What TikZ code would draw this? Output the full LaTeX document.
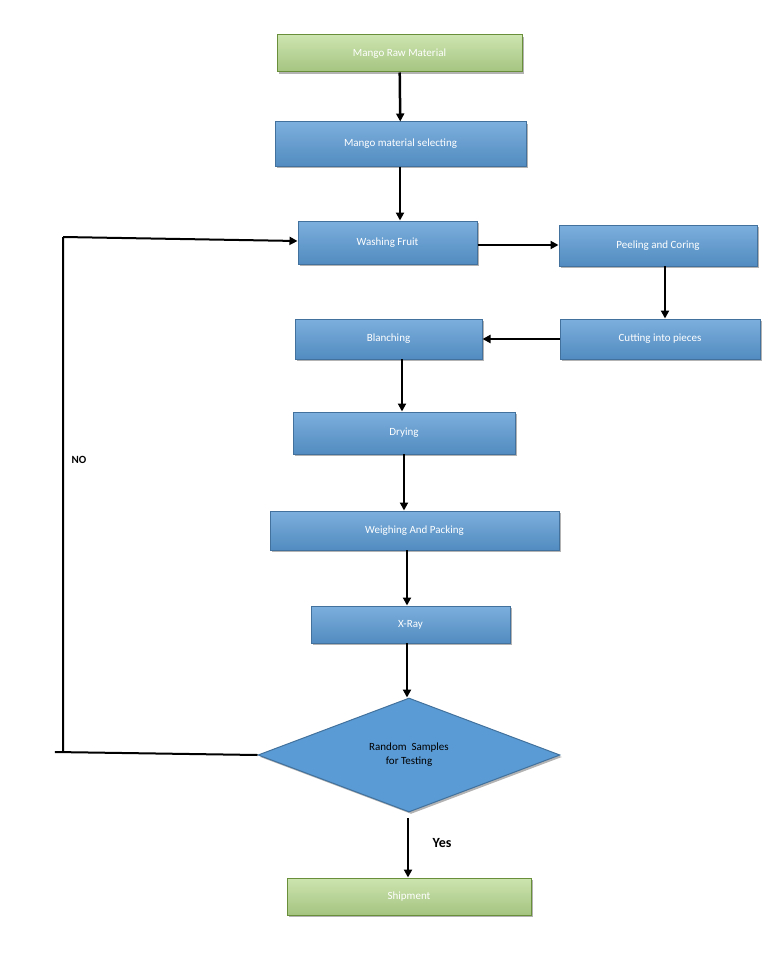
\documentclass[tikz,border=0pt]{standalone}
\usepackage{fontspec}
\setmainfont{Carlito}
\usetikzlibrary{shapes.geometric,arrows.meta,shadows}
\definecolor{bfill}{HTML}{5B9BD5}
\definecolor{bedge}{HTML}{41719C}
\definecolor{gfill}{HTML}{B7D98E}
\definecolor{gedge}{HTML}{6A8F3A}
\begin{document}
\begin{tikzpicture}[x=1pt,y=-1pt,
 box/.style={draw=bedge,line width=1pt,top color=bfill!80!white,bottom color=bfill!90!black,text=white,font=\fontsize{11}{13}\selectfont,drop shadow={shadow xshift=2pt,shadow yshift=-2pt,opacity=0.6},inner sep=0pt},
 gbox/.style={box,draw=gedge,top color=gfill!70!white,bottom color=gfill!90!black},
 arr/.style={-{Triangle[length=8pt,width=8pt]},line width=2.5pt},
 lin/.style={line width=2pt}]
\useasboundingbox (0,0) rectangle (779,963);
\node[gbox,minimum width=245pt,minimum height=37pt] (raw) at (399.5,53.5) {Mango Raw Material};
\node[box,minimum width=251pt,minimum height=44pt] (sel) at (400.5,144) {Mango material selecting};
\node[box,minimum width=179pt,minimum height=43pt] (wash) at (387.5,242.5) {Washing Fruit};
\node[box,minimum width=198pt,minimum height=41pt] (peel) at (658,245.5) {Peeling and Coring};
\node[box,minimum width=200pt,minimum height=40pt] (cut) at (660,339) {Cutting into pieces};
\node[box,minimum width=187pt,minimum height=40pt] (blan) at (388.5,339) {Blanching};
\node[box,minimum width=222pt,minimum height=42pt] (dry) at (404,433) {Drying};
\node[box,minimum width=289pt,minimum height=39pt] (weigh) at (414.5,530.5) {Weighing And Packing};
\node[box,minimum width=199pt,minimum height=37pt] (xray) at (410.5,624.5) {X-Ray};
\node[diamond,aspect=2.65,draw=bedge,line width=1pt,fill=bfill,minimum width=302pt,minimum height=114pt,inner sep=0pt,align=center,font=\fontsize{11}{14}\selectfont,drop shadow={shadow xshift=2pt,shadow yshift=-2pt,opacity=0.6}] (dia) at (409,755) {Random~ Samples\\for Testing};
\node[gbox,minimum width=244pt,minimum height=37pt] (ship) at (409,896.5) {Shipment};
\coordinate (c1) at (55,752);
\coordinate (c2) at (63,237);
\draw[arr] (raw) -- (sel);
\draw[arr] (sel.south -| 400,0) -- (wash.north -| 400,0);
\draw[arr] (wash.east |- 0,245) -- (peel.west |- 0,245);
\draw[arr] (665,266) -- (cut.north -| 665,0);
\draw[arr] (cut.west) -- (blan.east);
\draw[arr] (402,359) -- (dry.north -| 402,0);
\draw[arr] (404,454) -- (weigh.north -| 404,0);
\draw[arr] (407,550) -- (xray.north -| 407,0);
\draw[arr] (407,643) -- (dia.north -| 407,0);
\draw[arr] (408,818) -- (ship.north -| 408,0);
\draw[lin] (dia.west) -- (c1) -- (63,752) -- (c2);
\draw[arr,line width=2pt] (c2) -- (wash.west |- 0,241);
\node[font=\bfseries\fontsize{11}{13}\selectfont] at (79,460) {NO};
\node[font=\bfseries\fontsize{14}{16}\selectfont] at (442,843) {Yes};
\end{tikzpicture}
\end{document}
